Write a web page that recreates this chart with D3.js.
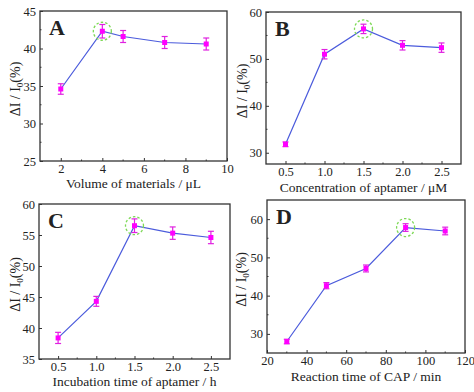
<!DOCTYPE html>
<html>
<head>
<meta charset="utf-8">
<script src="https://cdn.jsdelivr.net/npm/d3@7"></script>
<style>
body { margin: 0; background: #fff; }
text { font-family: "Liberation Serif", "DejaVu Serif", serif; fill: #222; }
</style>
</head>
<body>
<script>
// panel A: volume of materials
var xA = [2, 4, 5, 7, 9]
var yA = [34.6, 42.3, 41.6, 40.8, 40.6]
var eA = [0.7, 0.9, 0.8, 0.8, 0.8]
// panel B: concentration of aptamer
var xB = [0.5, 1.0, 1.5, 2.0, 2.5]
var yB = [31.8, 51.0, 56.4, 52.9, 52.4]
var eB = [0.5, 1.0, 1.0, 1.0, 1.0]
// panel C: incubation time
var xC = [0.5, 1.0, 1.5, 2.0, 2.5]
var yC = [38.4, 44.3, 56.5, 55.3, 54.6]
var eC = [0.9, 0.8, 1.1, 1.0, 1.0]
// panel D: reaction time
var xD = [30, 50, 70, 90, 110]
var yD = [28.0, 42.6, 47.1, 57.8, 56.9]
var eD = [0.6, 0.8, 0.9, 1.0, 1.0]

var svg = d3.select('body').append('svg')
    .attr('width', 474)
    .attr('height', 392)

var panels = [
    { letter: 'A', x: xA, y: yA, e: eA, best: 1,
      box: [40, 11, 227, 161], xd: [1, 10], yd: [25, 45],
      xt: [2, 4, 6, 8, 10], xm: [3, 5, 7, 9], yt: [25, 30, 35, 40, 45], ym: [27.5, 32.5, 37.5, 42.5],
      xf: d3.format('d'), yf: d3.format('d'),
      xlab: 'Volume of  materials / \u03bcL', ylabX: 15, xlabY: 188 },
    { letter: 'B', x: xB, y: yB, e: eB, best: 2,
      box: [266, 12, 461, 164], xd: [0.25, 2.75], yd: [27.6, 60],
      xt: [0.5, 1, 1.5, 2, 2.5], xm: [0.75, 1.25, 1.75, 2.25], yt: [30, 40, 50, 60], ym: [35, 45, 55],
      xf: d3.format('.1f'), yf: d3.format('d'),
      xlab: 'Concentration of aptamer / \u03bcM', ylabX: 242, xlabY: 192 },
    { letter: 'C', x: xC, y: yC, e: eC, best: 2,
      box: [39, 204, 230, 359], xd: [0.25, 2.75], yd: [35, 60],
      xt: [0.5, 1, 1.5, 2, 2.5], xm: [0.75, 1.25, 1.75, 2.25], yt: [35, 40, 45, 50, 55, 60], ym: [],
      xf: d3.format('.1f'), yf: d3.format('d'),
      xlab: 'Incubation time of aptamer / h', ylabX: 15, xlabY: 386 },
    { letter: 'D', x: xD, y: yD, e: eD, best: 3,
      box: [267, 200, 465, 353], xd: [20, 120], yd: [25, 65],
      xt: [20, 40, 60, 80, 100, 120], xm: [30, 50, 70, 90, 110], yt: [30, 40, 50, 60], ym: [35, 45, 55],
      xf: d3.format('d'), yf: d3.format('d'),
      xlab: 'Reaction time of CAP / min', ylabX: 241, xlabY: 381 }
]

panels.forEach(drawPanel)

function drawPanel(p) {
    var x = d3.scaleLinear().domain(p.xd).range([p.box[0], p.box[2]])
    var y = d3.scaleLinear().domain(p.yd).range([p.box[3], p.box[1]])
    var g = svg.append('g')

    var xAxis = d3.axisBottom(x).tickValues(p.xt).tickFormat(p.xf)
        .tickSizeInner(-3).tickSizeOuter(0).tickPadding(3)
    var yAxis = d3.axisLeft(y).tickValues(p.yt).tickFormat(p.yf)
        .tickSizeInner(-3).tickSizeOuter(0).tickPadding(4)

    var gx = g.append('g')
        .attr('transform', 'translate(0,' + p.box[3] + ')')
        .call(xAxis)
    var gy = g.append('g')
        .attr('transform', 'translate(' + p.box[0] + ',0)')
        .call(yAxis)
    ;[gx, gy].forEach(function (a) {
        a.attr('font-family', null).attr('font-size', null)
        a.select('.domain').remove()
        a.selectAll('line').attr('stroke', '#333')
        a.selectAll('text')
            .style('font-family', '"Liberation Serif", serif')
            .style('font-size', '12.5px')
            .attr('fill', '#222')
    })

    // minor ticks
    g.selectAll('.xminor').data(p.xm).enter().append('line')
        .attr('x1', function (d) { return x(d) }).attr('x2', function (d) { return x(d) })
        .attr('y1', p.box[3]).attr('y2', p.box[3] - 1.5)
        .attr('stroke', '#333')
    g.selectAll('.yminor').data(p.ym).enter().append('line')
        .attr('y1', function (d) { return y(d) }).attr('y2', function (d) { return y(d) })
        .attr('x1', p.box[0]).attr('x2', p.box[0] + 1.5)
        .attr('stroke', '#333')

    g.append('rect')
        .attr('x', p.box[0]).attr('y', p.box[1])
        .attr('width', p.box[2] - p.box[0]).attr('height', p.box[3] - p.box[1])
        .attr('fill', 'none').attr('stroke', '#333').attr('stroke-width', 1.3)

    var pts = p.x.map(function (d, i) { return { x: d, y: p.y[i], e: p.e[i] } })

    g.append('path')
        .datum(pts)
        .attr('fill', 'none')
        .attr('stroke', '#4b5bdc')
        .attr('stroke-width', 1.2)
        .attr('d', d3.line().x(function (d) { return x(d.x) }).y(function (d) { return y(d.y) }))

    var eb = g.selectAll('.err').data(pts).enter().append('g')
    eb.append('line')
        .attr('x1', function (d) { return x(d.x) }).attr('x2', function (d) { return x(d.x) })
        .attr('y1', function (d) { return y(d.y - d.e) }).attr('y2', function (d) { return y(d.y + d.e) })
        .attr('stroke', '#e020e0').attr('stroke-width', 1.2)
    ;[-1, 1].forEach(function (s) {
        eb.append('line')
            .attr('x1', function (d) { return x(d.x) - 3 }).attr('x2', function (d) { return x(d.x) + 3 })
            .attr('y1', function (d) { return y(d.y + s * d.e) }).attr('y2', function (d) { return y(d.y + s * d.e) })
            .attr('stroke', '#e020e0').attr('stroke-width', 1.2)
    })
    eb.append('rect')
        .attr('x', function (d) { return x(d.x) - 2.5 }).attr('y', function (d) { return y(d.y) - 2.5 })
        .attr('width', 5).attr('height', 5)
        .attr('fill', '#ff00ff')

    var b = pts[p.best]
    g.append('ellipse')
        .attr('cx', x(b.x)).attr('cy', y(b.y))
        .attr('rx', 9).attr('ry', 9)
        .attr('fill', 'none')
        .attr('stroke', '#7ed957')
        .attr('stroke-width', 1.3)
        .attr('stroke-dasharray', '2.5,2')

    g.append('text')
        .attr('x', p.box[0] + 9).attr('y', p.box[1] + 24)
        .style('font-size', '22px').style('font-weight', 'bold')
        .attr('fill', '#111')
        .text(p.letter)

    g.append('text')
        .attr('x', (p.box[0] + p.box[2]) / 2).attr('y', p.xlabY)
        .attr('text-anchor', 'middle')
        .style('font-size', '13.5px')
        .text(p.xlab)

    var yl = g.append('text')
        .attr('transform', 'translate(' + p.ylabX + ',' + ((p.box[1] + p.box[3]) / 2 + 3) + ') rotate(-90)')
        .attr('text-anchor', 'middle')
        .attr('dy', '0.35em')
        .style('font-size', '14px')
    yl.append('tspan').text('\u0394I  /  I')
    yl.append('tspan').attr('dy', 3).style('font-size', '9px').text('0')
    yl.append('tspan').attr('dy', -3).text('(%)')
}
</script>
</body>
</html>
